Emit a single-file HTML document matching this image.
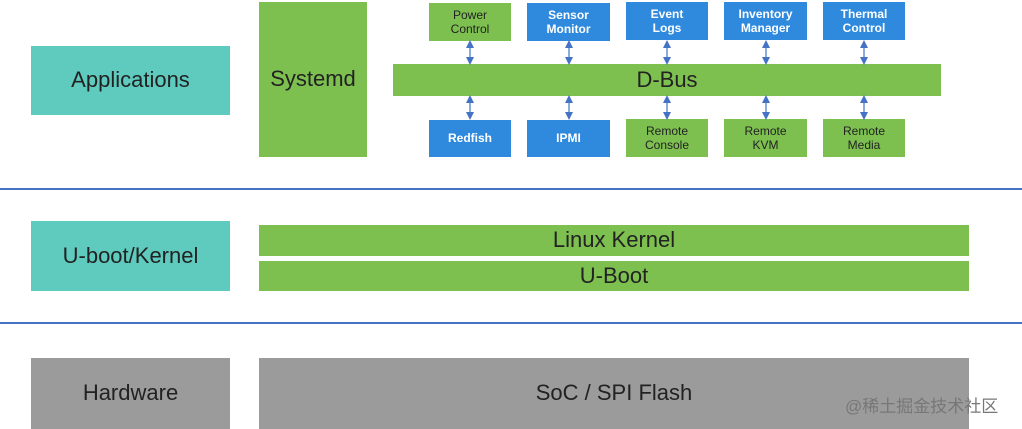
<!DOCTYPE html>
<html><head><meta charset="utf-8"><style>
body{margin:0;width:1022px;height:429px;background:#fff;position:relative;overflow:hidden;font-family:"Liberation Sans","Noto Sans CJK SC",sans-serif}
.b{position:absolute;display:flex;align-items:center;justify-content:center;text-align:center;color:#222;line-height:1.2}
.t{background:#5fcbbe;font-size:22px}
.g{background:#7dc050}
.bl{background:#2f8ade;color:#fff;font-weight:bold}
.gr{background:#9b9b9b;font-size:22px}
.s{font-size:12px}
.hl{position:absolute;left:0;width:1022px;height:2px;background:#4472c4}
svg{position:absolute;left:0;top:0}
</style></head><body>
<div class="b t" style="left:31px;top:46px;width:199px;height:69px">Applications</div>
<div class="b g" style="left:259px;top:2px;width:108px;height:155px;font-size:22px">Systemd</div>
<div class="b g" style="left:393px;top:64px;width:548px;height:32px;font-size:22px">D-Bus</div>
<div class="b g s" style="left:429px;top:3px;width:82px;height:38px">Power<br>Control</div>
<div class="b bl s" style="left:527px;top:3px;width:83px;height:38px">Sensor<br>Monitor</div>
<div class="b bl s" style="left:626px;top:2px;width:82px;height:38px">Event<br>Logs</div>
<div class="b bl s" style="left:724px;top:2px;width:83px;height:38px">Inventory<br>Manager</div>
<div class="b bl s" style="left:823px;top:2px;width:82px;height:38px">Thermal<br>Control</div>
<div class="b bl s" style="left:429px;top:120px;width:82px;height:37px">Redfish</div>
<div class="b bl s" style="left:527px;top:120px;width:83px;height:37px">IPMI</div>
<div class="b g s" style="left:626px;top:119px;width:82px;height:38px">Remote<br>Console</div>
<div class="b g s" style="left:724px;top:119px;width:83px;height:38px">Remote<br>KVM</div>
<div class="b g s" style="left:823px;top:119px;width:82px;height:38px">Remote<br>Media</div>
<svg width="1022" height="429">
<defs><marker id="a" markerWidth="8" markerHeight="8" refX="4" refY="4" orient="auto-start-reverse" markerUnits="userSpaceOnUse"><path d="M0,0L8,4L0,8z" fill="#4472c4"/></marker></defs>
<g stroke="#4472c4" stroke-width="1.2">
<line x1="470" y1="44" x2="470" y2="61" marker-start="url(#a)" marker-end="url(#a)"/>
<line x1="569" y1="44" x2="569" y2="61" marker-start="url(#a)" marker-end="url(#a)"/>
<line x1="667" y1="44" x2="667" y2="61" marker-start="url(#a)" marker-end="url(#a)"/>
<line x1="766" y1="44" x2="766" y2="61" marker-start="url(#a)" marker-end="url(#a)"/>
<line x1="864" y1="44" x2="864" y2="61" marker-start="url(#a)" marker-end="url(#a)"/>
<line x1="470" y1="99" x2="470" y2="116" marker-start="url(#a)" marker-end="url(#a)"/>
<line x1="569" y1="99" x2="569" y2="116" marker-start="url(#a)" marker-end="url(#a)"/>
<line x1="667" y1="99" x2="667" y2="116" marker-start="url(#a)" marker-end="url(#a)"/>
<line x1="766" y1="99" x2="766" y2="116" marker-start="url(#a)" marker-end="url(#a)"/>
<line x1="864" y1="99" x2="864" y2="116" marker-start="url(#a)" marker-end="url(#a)"/>
</g></svg>
<div class="hl" style="top:188px"></div>
<div class="hl" style="top:322px"></div>
<div class="b t" style="left:31px;top:221px;width:199px;height:70px">U-boot/Kernel</div>
<div class="b g" style="left:259px;top:225px;width:710px;height:31px;font-size:22px">Linux Kernel</div>
<div class="b g" style="left:259px;top:261px;width:710px;height:30px;font-size:22px">U-Boot</div>
<div class="b gr" style="left:31px;top:358px;width:199px;height:71px">Hardware</div>
<div class="b gr" style="left:259px;top:358px;width:710px;height:71px">SoC / SPI Flash</div>
<div style="position:absolute;left:845px;top:392px;font-size:17px;color:#777">@稀土掘金技术社区</div>
</body></html>
